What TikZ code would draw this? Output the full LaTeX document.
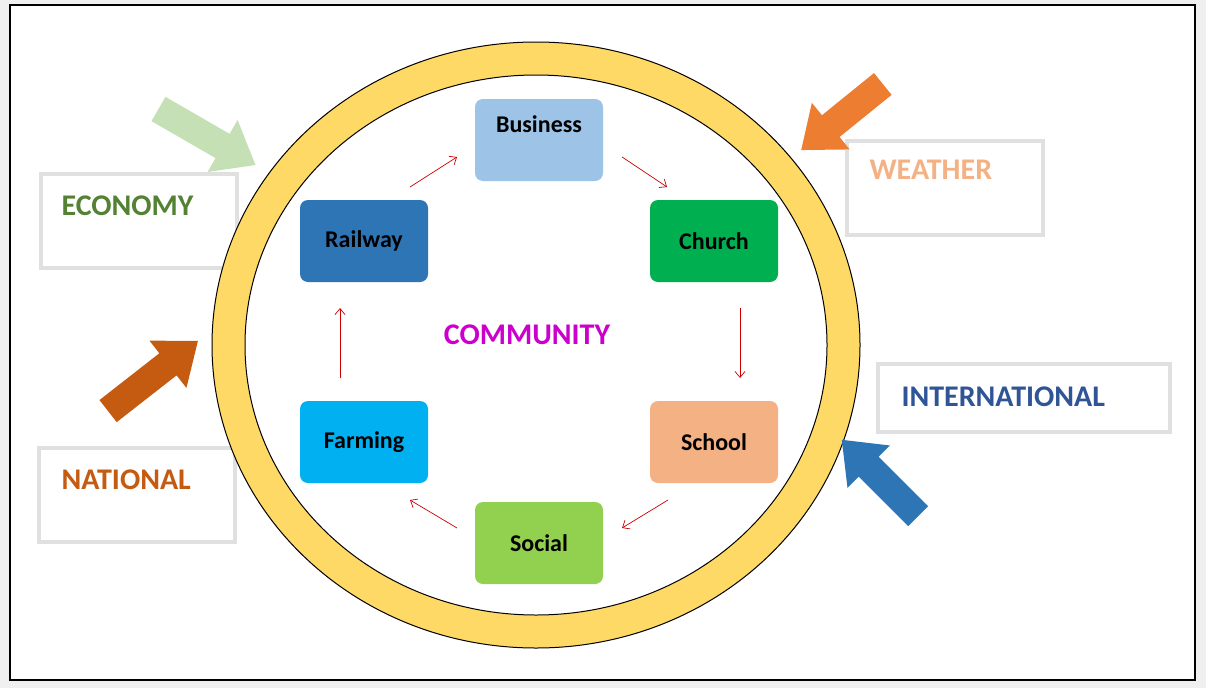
\documentclass[tikz,border=0pt]{standalone}
\usepackage{fontspec}
\setmainfont{Carlito}
\usetikzlibrary{arrows.meta}
\definecolor{ring}{HTML}{FFD966}
\definecolor{cA}{RGB}{197,224,180}
\definecolor{cB}{RGB}{237,125,49}
\definecolor{cC}{RGB}{197,90,17}
\definecolor{cD}{RGB}{46,117,182}
\tikzset{
 box/.style={rounded corners=8pt,minimum width=128pt,minimum height=82pt,font=\fontsize{24}{28}\selectfont\bfseries},
 lbl/.style={fill=white,draw=black!12,line width=4pt,minimum width=196pt,minimum height=94pt},
 ltxt/.style={font=\fontsize{30}{34}\selectfont\bfseries},
 rel/.style={draw=red!80!black,-{Straight Barb[length=6pt,width=10pt]},line width=0.7pt}
}
\newcommand\blkarrow[4]{% center, angle, length, color
 \fill[#4,shift={(#1)},rotate=#2] (-#3/2,-14) -- (#3/2-38,-14) -- (#3/2-38,-30) -- (#3/2,0) -- (#3/2-38,30) -- (#3/2-38,14) -- (-#3/2,14) -- cycle;}
\begin{document}
\begin{tikzpicture}[x=1pt,y=-1pt]
\useasboundingbox (0,0) rectangle (1206,688);
\fill[black!6] (0,0) rectangle (1206,688);
\draw[fill=white,line width=1.5pt] (10,5) rectangle (1195,680);
% labels
\node[lbl] (econ) at (139,221) {};
\node[ltxt,anchor=west,text={rgb,255:red,84;green,130;blue,53}] (econt) at (58,206) {ECONOMY};
\node[lbl] (weat) at (945,188) {};
\node[ltxt,anchor=west,text={rgb,255:red,244;green,177;blue,131}] (weatt) at (866,170) {WEATHER};
\node[lbl,minimum width=292pt,minimum height=68pt] (intl) at (1024,398) {};
\node[ltxt,anchor=west,text={rgb,255:red,47;green,85;blue,151}] (intlt) at (898,397) {INTERNATIONAL};
\node[lbl] (nat) at (137,495) {};
\node[ltxt,anchor=west,text={rgb,255:red,197;green,90;blue,17}] (natt) at (58,480) {NATIONAL};
% ring
\draw[fill=ring,line width=1pt] (536,345) ellipse [x radius=324, y radius=303];
\draw[fill=white,line width=1pt] (536,345) ellipse [x radius=291, y radius=270];
% block arrows
\blkarrow{207,137}{-30}{112}{cA}
\blkarrow{842,117}{-141}{105}{cB}
\blkarrow{153,376}{38}{114}{cC}
\blkarrow{880,478}{135}{108}{cD}
% nodes
\node[box,fill={rgb,255:red,157;green,195;blue,230},text depth=32pt] (bus) at (539,140) {Business};
\node[box,fill={rgb,255:red,0;green,176;blue,80}] (chu) at (714,241) {Church};
\node[box,fill={rgb,255:red,244;green,177;blue,131}] (sch) at (714,442) {School};
\node[box,fill={rgb,255:red,146;green,208;blue,80}] (soc) at (539,543) {Social};
\node[box,fill={rgb,255:red,0;green,176;blue,240}] (far) at (364,442) {Farming};
\node[box,fill={rgb,255:red,46;green,117;blue,182}] (rail) at (364,241) {Railway};
\node[ltxt,text={rgb,255:red,204;green,0;blue,204}] (com) at (527,335) {COMMUNITY};
% relations
\draw[rel] ([shift={(46,-54)}]rail.center) -- ([shift={(-82,17)}]bus.center);
\draw[rel] ([shift={(83,17)}]bus.center) -- ([shift={(-47,-54)}]chu.center);
\draw[rel] ([shift={(26,67)}]chu.center) -- ([shift={(26,-64)}]sch.center);
\draw[rel] ([shift={(-46,58)}]sch.center) -- ([shift={(83,-15)}]soc.center);
\draw[rel] ([shift={(-82,-15)}]soc.center) -- ([shift={(46,58)}]far.center);
\draw[rel] ([shift={(-24,-64)}]far.center) -- ([shift={(-24,67)}]rail.center);
\end{tikzpicture}
\end{document}
